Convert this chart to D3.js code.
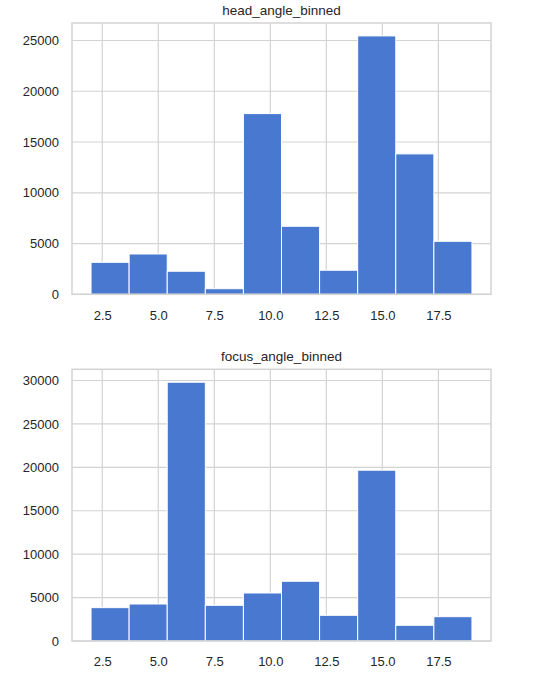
<!DOCTYPE html>
<html>
<head>
<meta charset="utf-8">
<script src="https://cdn.jsdelivr.net/npm/d3@7"></script>
<style>
  body { margin: 0; background: #fff; }
  svg text { font-family: "Liberation Sans", Arial, sans-serif; fill: #262626; }
</style>
</head>
<body>
<div id="chart"></div>
<script>
// bin edges shared by both histograms
var binEdges = [2.0, 3.7, 5.4, 7.1, 8.8, 10.5, 12.2, 13.9, 15.6, 17.3, 19.0];
var xTicks = [2.5, 5.0, 7.5, 10.0, 12.5, 15.0, 17.5];

var headTitle = 'head_angle_binned';
var headCounts = [3150, 3970, 2270, 550, 17800, 6700, 2370, 25450, 13830, 5220];
var headTicks = [0, 5000, 10000, 15000, 20000, 25000];

var focusTitle = 'focus_angle_binned';
var focusCounts = [3840, 4260, 29800, 4110, 5530, 6880, 2960, 19670, 1810, 2800];
var focusTicks = [0, 5000, 10000, 15000, 20000, 25000, 30000];

var width = 538, height = 673;
var barColour = '#4878cf';
var gridColour = '#d3d3d3';

var svg = d3.select('#chart')
    .append('svg')
    .attr('width', width)
    .attr('height', height);

// x scale is the same for both panels (matplotlib 5% margin)
var span = binEdges[binEdges.length - 1] - binEdges[0];
var x = d3.scaleLinear()
    .domain([binEdges[0] - span * 0.05, binEdges[binEdges.length - 1] + span * 0.05])
    .range([72, 491]);

function panel(title, counts, yTicks, top, bottom) {
    var y = d3.scaleLinear()
        .domain([0, d3.max(counts) * 1.05])
        .range([bottom, top]);

    var g = svg.append('g');

    // grid
    g.append('g')
        .selectAll('line')
        .data(xTicks)
        .join('line')
        .attr('x1', d => x(d)).attr('x2', d => x(d))
        .attr('y1', top).attr('y2', bottom)
        .attr('stroke', gridColour)
        .attr('stroke-width', 1.2);
    g.append('g')
        .selectAll('line')
        .data(yTicks)
        .join('line')
        .attr('x1', x.range()[0]).attr('x2', x.range()[1])
        .attr('y1', d => y(d)).attr('y2', d => y(d))
        .attr('stroke', gridColour)
        .attr('stroke-width', 1.2);

    // bars
    g.append('g')
        .selectAll('rect')
        .data(counts)
        .join('rect')
        .attr('x', (d, i) => x(binEdges[i]))
        .attr('width', (d, i) => x(binEdges[i + 1]) - x(binEdges[i]))
        .attr('y', d => y(d))
        .attr('height', d => bottom - y(d))
        .attr('fill', barColour)
        .attr('stroke', '#ffffff')
        .attr('stroke-width', 1);

    // frame
    g.append('rect')
        .attr('x', x.range()[0])
        .attr('y', top)
        .attr('width', x.range()[1] - x.range()[0])
        .attr('height', bottom - top)
        .attr('fill', 'none')
        .attr('stroke', gridColour)
        .attr('stroke-width', 1.5);

    // axes (labels only, seaborn whitegrid has no tick marks)
    var xAxis = g.append('g')
        .attr('transform', 'translate(0,' + bottom + ')')
        .call(d3.axisBottom(x).tickValues(xTicks).tickFormat(d3.format('.1f')).tickSize(0).tickPadding(16));
    var yAxis = g.append('g')
        .attr('transform', 'translate(' + x.range()[0] + ',0)')
        .call(d3.axisLeft(y).tickValues(yTicks).tickFormat(d3.format('d')).tickSize(0).tickPadding(13));
    [xAxis, yAxis].forEach(function (a) {
        a.select('.domain').remove();
        a.selectAll('text').style('font-size', '13px').attr('fill', '#262626');
    });

    g.append('text')
        .attr('x', (x.range()[0] + x.range()[1]) / 2)
        .attr('y', top - 8)
        .attr('text-anchor', 'middle')
        .style('font-size', '13.5px')
        .text(title);
}

panel(headTitle, headCounts, headTicks, 23, 294.3);
panel(focusTitle, focusCounts, focusTicks, 369.3, 641);
</script>
</body>
</html>
